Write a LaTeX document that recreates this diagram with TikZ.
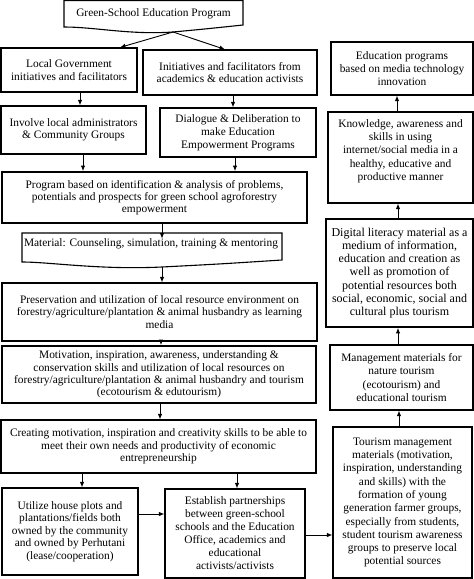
\documentclass[tikz,border=0pt]{standalone}
\usepackage{fontspec}
\setmainfont{Liberation Serif}
\usetikzlibrary{arrows.meta}
\tikzset{
  box/.style={draw, line width=1.2pt, inner xsep=1pt, inner ysep=0pt, align=center},
  heavy/.style={line width=1.8pt},
  ls/.style={font=\fontsize{11.4}{#1}\selectfont},
  lsb/.style={font=\fontsize{12}{#1}\selectfont},
  arr/.style={line width=0.9pt, -{Latex[length=5.5pt,width=4.5pt]}},
  docshape/.style={draw, line width=1.1pt},
  txt/.style={align=center, inner sep=0pt},
}
\newcommand\bx[7]{\node[box,#6,minimum width={#4-#2},minimum height={#5-#3}] (#1) at ({(#2+#4)/2},{(#3+#5)/2}) {#7};}
\begin{document}
\begin{tikzpicture}[x=1pt,y=-1pt,font=\fontsize{11.4}{12.3}\selectfont]
\useasboundingbox (0,0) rectangle (474,579);
% top document shape
\draw[docshape] (64,0.5) -- (243,0.5) -- (243,25) .. controls (205,29) .. (173,32) .. controls (130,35) and (95,27) .. (64,27) -- cycle;
\node[txt] (top) at (153.5,14) {Green-School Education Program};
\coordinate (topb) at (173,32);
% left column
\bx{gov}{1}{48}{137}{92}{ls=12.3}{Local Government\\initiatives and facilitators}
\bx{acad}{143}{50}{317}{95}{ls=12.3}{Initiatives and facilitators from\\academics \& education activists}
\bx{involve}{1}{106}{146}{154}{ls=12.3}{Involve local administrators\\\& Community Groups}
\bx{dialog}{160}{108}{316}{157}{ls=12.8}{Dialogue \& Deliberation to\\make Education\\Empowerment Programs}
\bx{program}{2}{172}{307}{223}{heavy,ls=12.3}{Program based on identification \& analysis of problems,\\potentials and prospects for green school agroforestry\\empowerment}
% material document shape
\draw[docshape] (22,233) -- (282,233) -- (282,260) .. controls (220,264) .. (162,267) .. controls (100,270) and (50,262) .. (22,262) -- cycle;
\node[txt] (mat) at (151,244) {Material: Counseling, simulation, training \& mentoring};
\coordinate (matb) at (162,267);
\bx{preserv}{2}{283}{317}{341}{ls=12.3}{Preservation and utilization of local resource environment on\\forestry/agriculture/plantation \& animal husbandry as learning\\media}
\bx{motiv}{2}{346}{316}{403}{heavy,ls=12.3}{Motivation, inspiration, awareness, understanding \&\\conservation skills and utilization of local resources on\\forestry/agriculture/plantation \& animal husbandry and tourism\\(ecotourism \& edutourism)}
\bx{creating}{1}{420}{316}{473}{ls=12.3}{Creating motivation, inspiration and creativity skills to be able to\\meet their own needs and productivity of economic\\entrepreneurship}
\bx{utilize}{2}{488}{138}{575}{ls=12.6}{Utilize house plots and\\plantations/fields both\\owned by the community\\and owned by Perhutani\\(lease/cooperation)}
\bx{establish}{165}{489}{305}{578}{ls=13}{Establish partnerships\\between green-school\\schools and the Education\\Office, academics and\\educational\\activists/activists}
% right column
\bx{edu}{331}{42}{473}{95}{ls=13.2}{Education programs\\based on media technology\\innovation}
\bx{know}{328}{112}{473}{203}{}{}
\node[txt,ls=13.3] (knowtxt) at (400.5,151) {Knowledge, awareness and\\skills in using\\internet/social media in a\\healthy, educative and\\productive manner};
\bx{digital}{326}{219}{473}{327}{heavy,lsb=13.2}{Digital literacy material as a\\medium of information,\\education and creation as\\well as promotion of\\potential resources both\\social, economic, social and\\cultural plus tourism}
\bx{mgmt}{330}{345}{473}{410}{ls=13.2}{Management materials for\\nature tourism\\(ecotourism) and\\educational tourism}
\bx{tourism}{333}{427}{472}{578}{ls=13.3}{Tourism management\\materials (motivation,\\inspiration, understanding\\and skills) with the\\formation of young\\generation farmer groups,\\especially from students,\\student tourism awareness\\groups to preserve local\\potential sources}
% connectors
\draw[arr] (topb) -- (gov.north -| 120,0);
\draw[arr] (topb) -- (acad.north -| 225,0);
\draw[arr] (gov.south -| 80,0) -- (involve.north -| 80,0);
\draw[arr] (acad.south -| 233,0) -- (dialog.north -| 233,0);
\draw[arr] (involve.south -| 83,0) -- (program.north -| 83,0);
\draw[arr] (dialog.south -| 235,0) -- (program.north -| 235,0);
\draw[arr] (program.south -| 162,0) -- (mat.north -| 162,233);
\draw[arr] (matb) -- (preserv.north -| 162,0);
\draw[arr] (preserv.south -| 161,0) -- (motiv.north -| 161,0);
\draw[arr] (motiv.south -| 160,0) -- (creating.north -| 160,0);
\draw[arr] (creating.south -| 82,0) -- (utilize.north -| 82,0);
\draw[arr] (creating.south -| 237,0) -- (establish.north -| 237,0);
\draw[arr] (utilize.east |- 0,514) -- (establish.west |- 0,514);
\draw[arr] (establish.east |- 0,535) -- (tourism.west |- 0,535);
\draw[arr] (tourism.north -| 399,0) -- (mgmt.south -| 399,0);
\draw[arr] (mgmt.north -| 398,0) -- (digital.south -| 398,0);
\draw[arr] (digital.north -| 398,0) -- (know.south -| 398,0);
\draw[arr] (know.north -| 397,0) -- (edu.south -| 397,0);
\end{tikzpicture}
\end{document}
